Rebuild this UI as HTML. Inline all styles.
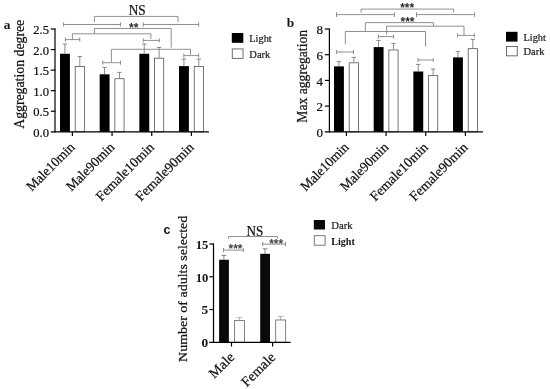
<!DOCTYPE html>
<html lang="en"><head><meta charset="utf-8"><title>Figure</title>
<style>
html,body{margin:0;padding:0;background:#fff;}
body{width:550px;height:389px;overflow:hidden;font-family:"Liberation Serif",serif;}
svg{display:block;}
</style></head><body>
<svg width="550" height="389" viewBox="0 0 550 389">
<rect x="0" y="0" width="550" height="389" fill="#fff"/>
<path d="M62.7 44H67.1M64.9 44V53.67" fill="none" stroke="#5c5c5c" stroke-width="0.7"/>
<path d="M77.6 56.6H82M79.8 56.6V66.01" fill="none" stroke="#5c5c5c" stroke-width="0.7"/>
<rect x="60.00" y="53.77" width="9.90" height="78.03" fill="#000"/>
<rect x="75.20" y="66.41" width="9.20" height="65.39" fill="#fff" stroke="#4a4a4a" stroke-width="0.75"/>
<path d="M102.37 67.4H106.77M104.57 67.4V74.23" fill="none" stroke="#5c5c5c" stroke-width="0.7"/>
<path d="M117.27 72.4H121.67M119.47 72.4V78.34" fill="none" stroke="#5c5c5c" stroke-width="0.7"/>
<rect x="99.67" y="74.33" width="9.90" height="57.47" fill="#000"/>
<rect x="114.87" y="78.74" width="9.20" height="53.06" fill="#fff" stroke="#4a4a4a" stroke-width="0.75"/>
<path d="M142.04 44H146.44M144.24 44V53.67" fill="none" stroke="#5c5c5c" stroke-width="0.7"/>
<path d="M156.94 47.4H161.34M159.14 47.4V57.78" fill="none" stroke="#5c5c5c" stroke-width="0.7"/>
<rect x="139.34" y="53.77" width="9.90" height="78.03" fill="#000"/>
<rect x="154.54" y="58.18" width="9.20" height="73.62" fill="#fff" stroke="#4a4a4a" stroke-width="0.75"/>
<path d="M181.71 59H186.11M183.91 59V66.01" fill="none" stroke="#5c5c5c" stroke-width="0.7"/>
<path d="M196.61 59H201.01M198.81 59V66.01" fill="none" stroke="#5c5c5c" stroke-width="0.7"/>
<rect x="179.01" y="66.11" width="9.90" height="65.69" fill="#000"/>
<rect x="194.21" y="66.41" width="9.20" height="65.39" fill="#fff" stroke="#4a4a4a" stroke-width="0.75"/>
<line x1="55.0" y1="28.4" x2="55.0" y2="132.4" stroke="#000" stroke-width="1.2"/>
<line x1="50.8" y1="131.8" x2="208.9" y2="131.8" stroke="#000" stroke-width="1.3"/>
<line x1="72.4" y1="131.8" x2="72.4" y2="136.0" stroke="#000" stroke-width="1.2"/>
<line x1="112.07" y1="131.8" x2="112.07" y2="136.0" stroke="#000" stroke-width="1.2"/>
<line x1="151.74" y1="131.8" x2="151.74" y2="136.0" stroke="#000" stroke-width="1.2"/>
<line x1="191.41" y1="131.8" x2="191.41" y2="136.0" stroke="#000" stroke-width="1.2"/>
<text x="49.0" y="137.0" font-family='"Liberation Serif", serif' font-size="13.1" font-weight="normal" text-anchor="end" fill="#111" stroke="#111" stroke-width="0.22" textLength="15.8" lengthAdjust="spacingAndGlyphs">0.0</text>
<line x1="50.8" y1="111.24" x2="55.4" y2="111.24" stroke="#000" stroke-width="1.2"/>
<text x="49.0" y="116.44" font-family='"Liberation Serif", serif' font-size="13.1" font-weight="normal" text-anchor="end" fill="#111" stroke="#111" stroke-width="0.22" textLength="15.8" lengthAdjust="spacingAndGlyphs">0.5</text>
<line x1="50.8" y1="90.68" x2="55.4" y2="90.68" stroke="#000" stroke-width="1.2"/>
<text x="49.0" y="95.88" font-family='"Liberation Serif", serif' font-size="13.1" font-weight="normal" text-anchor="end" fill="#111" stroke="#111" stroke-width="0.22" textLength="15.8" lengthAdjust="spacingAndGlyphs">1.0</text>
<line x1="50.8" y1="70.12" x2="55.4" y2="70.12" stroke="#000" stroke-width="1.2"/>
<text x="49.0" y="75.32" font-family='"Liberation Serif", serif' font-size="13.1" font-weight="normal" text-anchor="end" fill="#111" stroke="#111" stroke-width="0.22" textLength="15.8" lengthAdjust="spacingAndGlyphs">1.5</text>
<line x1="50.8" y1="49.56" x2="55.4" y2="49.56" stroke="#000" stroke-width="1.2"/>
<text x="49.0" y="54.76" font-family='"Liberation Serif", serif' font-size="13.1" font-weight="normal" text-anchor="end" fill="#111" stroke="#111" stroke-width="0.22" textLength="15.8" lengthAdjust="spacingAndGlyphs">2.0</text>
<line x1="50.8" y1="29.0" x2="55.4" y2="29.0" stroke="#000" stroke-width="1.2"/>
<text x="49.0" y="34.2" font-family='"Liberation Serif", serif' font-size="13.1" font-weight="normal" text-anchor="end" fill="#111" stroke="#111" stroke-width="0.22" textLength="15.8" lengthAdjust="spacingAndGlyphs">2.5</text>
<text x="24.0" y="128.8" font-family='"Liberation Serif", serif' font-size="13.6" font-weight="normal" text-anchor="start" fill="#111" stroke="#111" stroke-width="0.22" transform="rotate(-90 24.0 128.8)" textLength="109" lengthAdjust="spacingAndGlyphs">Aggregation degree</text>
<text x="75.6" y="148.0" font-family='"Liberation Serif", serif' font-size="13.7" font-weight="normal" text-anchor="end" fill="#111" stroke="#111" stroke-width="0.22" transform="rotate(-45 75.6 148.0)" textLength="62" lengthAdjust="spacingAndGlyphs">Male10min</text>
<text x="115.27" y="148.0" font-family='"Liberation Serif", serif' font-size="13.7" font-weight="normal" text-anchor="end" fill="#111" stroke="#111" stroke-width="0.22" transform="rotate(-45 115.27 148.0)" textLength="62" lengthAdjust="spacingAndGlyphs">Male90min</text>
<text x="154.94" y="148.0" font-family='"Liberation Serif", serif' font-size="13.7" font-weight="normal" text-anchor="end" fill="#111" stroke="#111" stroke-width="0.22" transform="rotate(-45 154.94 148.0)" textLength="76" lengthAdjust="spacingAndGlyphs">Female10min</text>
<text x="194.61" y="148.0" font-family='"Liberation Serif", serif' font-size="13.7" font-weight="normal" text-anchor="end" fill="#111" stroke="#111" stroke-width="0.22" transform="rotate(-45 194.61 148.0)" textLength="76" lengthAdjust="spacingAndGlyphs">Female90min</text>
<text x="3.8" y="28.9" font-family='"Liberation Serif", serif' font-size="13.4" font-weight="bold" text-anchor="start" fill="#111">a</text>
<rect x="231.80" y="33.00" width="11.50" height="9.80" fill="#000"/>
<rect x="232.25" y="48.95" width="10.80" height="9.40" fill="#fff" stroke="#555" stroke-width="0.85"/>
<text x="249.3" y="41.7" font-family='"Liberation Serif", serif' font-size="11" font-weight="normal" text-anchor="start" fill="#1a1a1a" stroke="#1a1a1a" stroke-width="0.22" textLength="22.4" lengthAdjust="spacingAndGlyphs">Light</text>
<text x="249.3" y="57.5" font-family='"Liberation Serif", serif' font-size="11" font-weight="normal" text-anchor="start" fill="#1a1a1a" stroke="#1a1a1a" stroke-width="0.22" textLength="21" lengthAdjust="spacingAndGlyphs">Dark</text>
<text x="137.2" y="14.6" font-family='"Liberation Serif", serif' font-size="13.6" font-weight="normal" text-anchor="middle" fill="#111" stroke="#111" stroke-width="0.22" textLength="17" lengthAdjust="spacingAndGlyphs">NS</text>
<path d="M94.4 22.2V16.4H178V22.2" fill="none" stroke="#7c7c7c" stroke-width="0.85"/>
<path d="M63.6 22.3V26.7M63.6 24.5H120.4M120.4 22.3V26.7" fill="none" stroke="#7c7c7c" stroke-width="0.85"/>
<path d="M143.2 22.3V26.7M143.2 24.5H198.7M198.7 22.3V26.7" fill="none" stroke="#7c7c7c" stroke-width="0.85"/>
<text x="133.7" y="31.5" font-family='"Liberation Sans", sans-serif' font-size="12.2" font-weight="bold" text-anchor="middle" fill="#2a2a2a">**</text>
<path d="M94.4 33.8V28.5H171.2V47.6" fill="none" stroke="#7c7c7c" stroke-width="0.85"/>
<path d="M72.4 39.6V33.8H150.9V38.8" fill="none" stroke="#7c7c7c" stroke-width="0.85"/>
<path d="M65.4 37.6V41.6M65.4 39.6H79.8M79.8 37.6V41.6" fill="none" stroke="#7c7c7c" stroke-width="0.85"/>
<path d="M143.3 38.4V42.4M143.3 40.4H159.3M159.3 38.4V42.4" fill="none" stroke="#7c7c7c" stroke-width="0.85"/>
<path d="M111.4 62.4V49.3H190.5V54.6" fill="none" stroke="#7c7c7c" stroke-width="0.85"/>
<path d="M102.7 60.7V64.7M102.7 62.7H120.5M120.5 60.7V64.7" fill="none" stroke="#7c7c7c" stroke-width="0.85"/>
<path d="M183.8 53.6V57.6M183.8 55.6H198.7M198.7 53.6V57.6" fill="none" stroke="#7c7c7c" stroke-width="0.85"/>
<path d="M336.7 61.4H341.1M338.9 61.4V66.27" fill="none" stroke="#5c5c5c" stroke-width="0.7"/>
<path d="M351.6 57.4H356M353.8 57.4V62.41" fill="none" stroke="#5c5c5c" stroke-width="0.7"/>
<rect x="334.00" y="66.37" width="9.90" height="65.44" fill="#000"/>
<rect x="349.20" y="62.81" width="9.20" height="68.99" fill="#fff" stroke="#4a4a4a" stroke-width="0.75"/>
<path d="M376.37 40.4H380.77M378.57 40.4V46.99" fill="none" stroke="#5c5c5c" stroke-width="0.7"/>
<path d="M391.27 43.4H395.67M393.47 43.4V49.56" fill="none" stroke="#5c5c5c" stroke-width="0.7"/>
<rect x="373.67" y="47.09" width="9.90" height="84.71" fill="#000"/>
<rect x="388.87" y="49.96" width="9.20" height="81.84" fill="#fff" stroke="#4a4a4a" stroke-width="0.75"/>
<path d="M416.04 64.4H420.44M418.24 64.4V71.41" fill="none" stroke="#5c5c5c" stroke-width="0.7"/>
<path d="M430.94 69H435.34M433.14 69V75.26" fill="none" stroke="#5c5c5c" stroke-width="0.7"/>
<rect x="413.34" y="71.50" width="9.90" height="60.30" fill="#000"/>
<rect x="428.54" y="75.66" width="9.20" height="56.14" fill="#fff" stroke="#4a4a4a" stroke-width="0.75"/>
<path d="M455.71 51.4H460.11M457.91 51.4V57.27" fill="none" stroke="#5c5c5c" stroke-width="0.7"/>
<path d="M470.61 39.4H475.01M472.81 39.4V48.28" fill="none" stroke="#5c5c5c" stroke-width="0.7"/>
<rect x="453.01" y="57.37" width="9.90" height="74.43" fill="#000"/>
<rect x="468.21" y="48.68" width="9.20" height="83.12" fill="#fff" stroke="#4a4a4a" stroke-width="0.75"/>
<line x1="329.4" y1="28.4" x2="329.4" y2="132.4" stroke="#000" stroke-width="1.2"/>
<line x1="324.8" y1="131.8" x2="482.9" y2="131.8" stroke="#000" stroke-width="1.3"/>
<line x1="346.4" y1="131.8" x2="346.4" y2="136.0" stroke="#000" stroke-width="1.2"/>
<line x1="386.07" y1="131.8" x2="386.07" y2="136.0" stroke="#000" stroke-width="1.2"/>
<line x1="425.74" y1="131.8" x2="425.74" y2="136.0" stroke="#000" stroke-width="1.2"/>
<line x1="465.41" y1="131.8" x2="465.41" y2="136.0" stroke="#000" stroke-width="1.2"/>
<text x="323.0" y="137.0" font-family='"Liberation Serif", serif' font-size="13.1" font-weight="normal" text-anchor="end" fill="#111" stroke="#111" stroke-width="0.22" textLength="6.5" lengthAdjust="spacingAndGlyphs">0</text>
<line x1="324.8" y1="106.1" x2="329.4" y2="106.1" stroke="#000" stroke-width="1.2"/>
<text x="323.0" y="111.3" font-family='"Liberation Serif", serif' font-size="13.1" font-weight="normal" text-anchor="end" fill="#111" stroke="#111" stroke-width="0.22" textLength="6.5" lengthAdjust="spacingAndGlyphs">2</text>
<line x1="324.8" y1="80.4" x2="329.4" y2="80.4" stroke="#000" stroke-width="1.2"/>
<text x="323.0" y="85.6" font-family='"Liberation Serif", serif' font-size="13.1" font-weight="normal" text-anchor="end" fill="#111" stroke="#111" stroke-width="0.22" textLength="6.5" lengthAdjust="spacingAndGlyphs">4</text>
<line x1="324.8" y1="54.7" x2="329.4" y2="54.7" stroke="#000" stroke-width="1.2"/>
<text x="323.0" y="59.9" font-family='"Liberation Serif", serif' font-size="13.1" font-weight="normal" text-anchor="end" fill="#111" stroke="#111" stroke-width="0.22" textLength="6.5" lengthAdjust="spacingAndGlyphs">6</text>
<line x1="324.8" y1="29.0" x2="329.4" y2="29.0" stroke="#000" stroke-width="1.2"/>
<text x="323.0" y="34.2" font-family='"Liberation Serif", serif' font-size="13.1" font-weight="normal" text-anchor="end" fill="#111" stroke="#111" stroke-width="0.22" textLength="6.5" lengthAdjust="spacingAndGlyphs">8</text>
<text x="307.3" y="122.7" font-family='"Liberation Serif", serif' font-size="13.6" font-weight="normal" text-anchor="start" fill="#111" stroke="#111" stroke-width="0.22" transform="rotate(-90 307.3 122.7)" textLength="92.8" lengthAdjust="spacingAndGlyphs">Max aggregation</text>
<text x="349.6" y="148.0" font-family='"Liberation Serif", serif' font-size="13.7" font-weight="normal" text-anchor="end" fill="#111" stroke="#111" stroke-width="0.22" transform="rotate(-45 349.6 148.0)" textLength="62" lengthAdjust="spacingAndGlyphs">Male10min</text>
<text x="389.27" y="148.0" font-family='"Liberation Serif", serif' font-size="13.7" font-weight="normal" text-anchor="end" fill="#111" stroke="#111" stroke-width="0.22" transform="rotate(-45 389.27 148.0)" textLength="62" lengthAdjust="spacingAndGlyphs">Male90min</text>
<text x="428.94" y="148.0" font-family='"Liberation Serif", serif' font-size="13.7" font-weight="normal" text-anchor="end" fill="#111" stroke="#111" stroke-width="0.22" transform="rotate(-45 428.94 148.0)" textLength="76" lengthAdjust="spacingAndGlyphs">Female10min</text>
<text x="468.61" y="148.0" font-family='"Liberation Serif", serif' font-size="13.7" font-weight="normal" text-anchor="end" fill="#111" stroke="#111" stroke-width="0.22" transform="rotate(-45 468.61 148.0)" textLength="76" lengthAdjust="spacingAndGlyphs">Female90min</text>
<text x="286.8" y="26.5" font-family='"Liberation Serif", serif' font-size="13.4" font-weight="bold" text-anchor="start" fill="#111">b</text>
<rect x="506.00" y="31.80" width="11.50" height="9.80" fill="#000"/>
<rect x="506.45" y="46.45" width="10.80" height="9.40" fill="#fff" stroke="#555" stroke-width="0.85"/>
<text x="523.5" y="40.5" font-family='"Liberation Serif", serif' font-size="11" font-weight="normal" text-anchor="start" fill="#1a1a1a" stroke="#1a1a1a" stroke-width="0.22" textLength="22.4" lengthAdjust="spacingAndGlyphs">Light</text>
<text x="523.5" y="55.0" font-family='"Liberation Serif", serif' font-size="11" font-weight="normal" text-anchor="start" fill="#1a1a1a" stroke="#1a1a1a" stroke-width="0.22" textLength="21" lengthAdjust="spacingAndGlyphs">Dark</text>
<text x="407.2" y="11.8" font-family='"Liberation Sans", sans-serif' font-size="12" font-weight="bold" text-anchor="middle" fill="#2a2a2a">***</text>
<text x="407.5" y="25.8" font-family='"Liberation Sans", sans-serif' font-size="12" font-weight="bold" text-anchor="middle" fill="#2a2a2a">***</text>
<path d="M361 12.5V9.1H453.6V12.5" fill="none" stroke="#7c7c7c" stroke-width="0.85"/>
<path d="M336.5 12.2V17.0M336.5 14.6H394.4M394.4 12.2V17.0" fill="none" stroke="#7c7c7c" stroke-width="0.85"/>
<path d="M416.5 12.2V17.0M416.5 14.6H474.6M474.6 12.2V17.0" fill="none" stroke="#7c7c7c" stroke-width="0.85"/>
<path d="M365.4 31.5V22.6H433.4V26.2" fill="none" stroke="#7c7c7c" stroke-width="0.85"/>
<path d="M386.6 34.6V26.2H464V35.2" fill="none" stroke="#7c7c7c" stroke-width="0.85"/>
<path d="M345.3 44.4V31.5H425.5V46.4" fill="none" stroke="#7c7c7c" stroke-width="0.85"/>
<path d="M336.6 50V54M336.6 52H353.4M353.4 50V54" fill="none" stroke="#7c7c7c" stroke-width="0.85"/>
<path d="M378.4 34.6V38.6M378.4 36.6H393.6M393.6 34.6V38.6" fill="none" stroke="#7c7c7c" stroke-width="0.85"/>
<path d="M418 58V62M418 60H433.2M433.2 58V62" fill="none" stroke="#7c7c7c" stroke-width="0.85"/>
<path d="M457.6 33.4V37.4M457.6 35.4H474.4M474.4 33.4V37.4" fill="none" stroke="#7c7c7c" stroke-width="0.85"/>
<path d="M221.5 255.4H226.3M223.9 255.4V259.73" fill="none" stroke="#555" stroke-width="0.7"/>
<path d="M236.7 317.6H242.3M239.5 317.6V320.63" fill="none" stroke="#9a9a9a" stroke-width="0.7"/>
<rect x="219.10" y="259.73" width="9.80" height="82.57" fill="#0a0a0a"/>
<rect x="234.60" y="320.63" width="10.00" height="21.67" fill="#fcfcfc" stroke="#5a5a5a" stroke-width="0.75"/>
<path d="M262.6 248.8H267.4M265.0 248.8V253.83" fill="none" stroke="#555" stroke-width="0.7"/>
<path d="M277.8 316.4H283.4M280.6 316.4V319.98" fill="none" stroke="#9a9a9a" stroke-width="0.7"/>
<rect x="260.20" y="253.83" width="9.80" height="88.47" fill="#0a0a0a"/>
<rect x="275.70" y="319.98" width="10.00" height="22.32" fill="#fcfcfc" stroke="#5a5a5a" stroke-width="0.75"/>
<line x1="213.5" y1="243.4" x2="213.5" y2="342.9" stroke="#000" stroke-width="1.25"/>
<line x1="209.2" y1="342.3" x2="290.6" y2="342.3" stroke="#000" stroke-width="1.25"/>
<line x1="231.5" y1="342.3" x2="231.5" y2="346.5" stroke="#000" stroke-width="1.2"/>
<line x1="272.6" y1="342.3" x2="272.6" y2="346.5" stroke="#000" stroke-width="1.2"/>
<text x="208.3" y="347.2" font-family='"Liberation Serif", serif' font-size="13.3" font-weight="bold" text-anchor="end" fill="#111" textLength="6.7" lengthAdjust="spacingAndGlyphs">0</text>
<line x1="209.4" y1="309.54" x2="213.5" y2="309.54" stroke="#000" stroke-width="1.2"/>
<text x="208.3" y="314.44" font-family='"Liberation Serif", serif' font-size="13.3" font-weight="bold" text-anchor="end" fill="#111" textLength="6.7" lengthAdjust="spacingAndGlyphs">5</text>
<line x1="209.4" y1="276.77" x2="213.5" y2="276.77" stroke="#000" stroke-width="1.2"/>
<text x="208.3" y="281.67" font-family='"Liberation Serif", serif' font-size="13.3" font-weight="bold" text-anchor="end" fill="#111" textLength="12.6" lengthAdjust="spacingAndGlyphs">10</text>
<line x1="209.4" y1="244" x2="213.5" y2="244" stroke="#000" stroke-width="1.2"/>
<text x="208.3" y="248.91" font-family='"Liberation Serif", serif' font-size="13.3" font-weight="bold" text-anchor="end" fill="#111" textLength="12.6" lengthAdjust="spacingAndGlyphs">15</text>
<text x="187.0" y="361.9" font-family='"Liberation Serif", serif' font-size="13.3" font-weight="normal" text-anchor="start" fill="#111" stroke="#111" stroke-width="0.22" transform="rotate(-90 187.0 361.9)" textLength="146.2" lengthAdjust="spacingAndGlyphs">Number of adults selected</text>
<text x="235.3" y="358.0" font-family='"Liberation Serif", serif' font-size="14" font-weight="normal" text-anchor="end" fill="#111" stroke="#111" stroke-width="0.22" transform="rotate(-45 235.3 358.0)" textLength="29.6" lengthAdjust="spacingAndGlyphs">Male</text>
<text x="276.3" y="358.0" font-family='"Liberation Serif", serif' font-size="14" font-weight="normal" text-anchor="end" fill="#111" stroke="#111" stroke-width="0.22" transform="rotate(-45 276.3 358.0)" textLength="41.8" lengthAdjust="spacingAndGlyphs">Female</text>
<text x="163.4" y="233.6" font-family='"Liberation Sans", sans-serif' font-size="12.5" font-weight="bold" text-anchor="start" fill="#111">c</text>
<text x="254.9" y="236.4" font-family='"Liberation Serif", serif' font-size="13.7" font-weight="normal" text-anchor="middle" fill="#111" stroke="#111" stroke-width="0.22" textLength="16.8" lengthAdjust="spacingAndGlyphs">NS</text>
<path d="M228.6 238.8V236.5H277.5V238.8" fill="none" stroke="#7c7c7c" stroke-width="0.85"/>
<path d="M223.5 248.1V252.1M223.5 250.1H243.4M243.4 248.1V252.1" fill="none" stroke="#7c7c7c" stroke-width="0.85"/>
<path d="M262.7 241.9V246.3M262.7 244.1H285.5M285.5 241.9V246.3" fill="none" stroke="#7c7c7c" stroke-width="0.85"/>
<text x="235.5" y="253" font-family='"Liberation Sans", sans-serif' font-size="12" font-weight="bold" text-anchor="middle" fill="#444">***</text>
<text x="276.2" y="248.3" font-family='"Liberation Sans", sans-serif' font-size="12" font-weight="bold" text-anchor="middle" fill="#444">***</text>
<rect x="313.80" y="220.00" width="11.20" height="9.50" fill="#0a0a0a"/>
<rect x="314.30" y="235.70" width="10.80" height="9.50" fill="#fdfdfd" stroke="#666" stroke-width="0.85"/>
<text x="331.2" y="228.6" font-family='"Liberation Serif", serif' font-size="11" font-weight="normal" text-anchor="start" fill="#222" stroke="#222" stroke-width="0.22" textLength="21.4" lengthAdjust="spacingAndGlyphs">Dark</text>
<text x="331.2" y="244.6" font-family='"Liberation Serif", serif' font-size="11" font-weight="bold" text-anchor="start" fill="#111" textLength="23.6" lengthAdjust="spacingAndGlyphs">Light</text>
</svg>
</body></html>
